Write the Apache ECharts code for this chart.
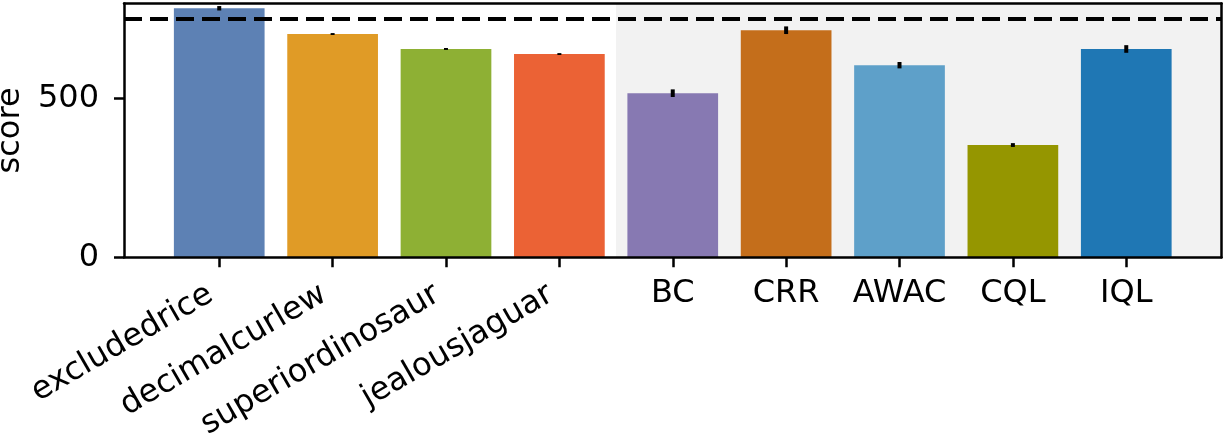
<!DOCTYPE html>
<html>
<head>
<meta charset="utf-8">
<script src="https://cdn.jsdelivr.net/npm/echarts@6/dist/echarts.min.js"></script>
<style>
html,body{margin:0;padding:0;background:#fff;}
#c{width:1224px;height:442px;}
</style>
</head>
<body>
<div id="c"></div>
<script>
var categories = ['excludedrice','decimalcurlew','superiordinosaur','jealousjaguar','BC','CRR','AWAC','CQL','IQL'];
var scores = [783, 702, 655, 639, 516, 714, 604, 353, 655];
var errors = [7, 3, 3, 3, 12, 12, 10, 6, 12];
var colors = ['#5d81b4','#e09b26','#8eb034','#eb6235','#8779b2','#c46e1b','#5ea0c9','#959600','#1f77b4'];
var referenceScore = 751;
var yTicks = [0, 500];
var rotatedTickIdx = [0, 1, 2, 3];
var flatTickIdx = [4, 5, 6, 7, 8];
var allTickIdx = [0, 1, 2, 3, 4, 5, 6, 7, 8];
var shadeFrom = 3.5;

var XMIN = -0.84, XMAX = 8.84, YMIN = 0, YMAX = 798;
var FONT = 'DejaVu Sans';
var FS = 32;

var chart = echarts.init(document.getElementById('c'), null, {renderer: 'canvas'});

var barData = scores.map(function (v, i) { return [i, v]; });
var errData = scores.map(function (v, i) { return [i, v - errors[i], v + errors[i]]; });

var option = {
  animation: false,
  backgroundColor: '#ffffff',
  grid: {left: 124, right: 2.5, top: 3.5, bottom: 184.7, containLabel: false, outerBoundsMode: 'none'},
  xAxis: [
    {
      type: 'value', min: XMIN, max: XMAX, position: 'bottom', z: 10,
      axisLine: {show: true, onZero: false, lineStyle: {color: '#000', width: 2.5}},
      axisTick: {show: true, customValues: allTickIdx, length: 10, lineStyle: {color: '#000', width: 2.5}},
      axisLabel: {
        show: true, customValues: rotatedTickIdx, rotate: 30, margin: 30,
        padding: [0, 10, 0, 0],
        fontFamily: FONT, fontSize: FS, color: '#000',
        formatter: function (v) { return categories[Math.round(v)]; }
      },
      splitLine: {show: false}
    },
    {
      type: 'value', min: XMIN, max: XMAX, position: 'bottom', z: 10,
      axisLine: {show: false, onZero: false},
      axisTick: {show: false},
      axisLabel: {
        show: true, customValues: flatTickIdx, rotate: 0, margin: 20,
        fontFamily: FONT, fontSize: FS, color: '#000',
        formatter: function (v) { return categories[Math.round(v)]; }
      },
      splitLine: {show: false}
    },
    {
      type: 'value', min: XMIN, max: XMAX, position: 'top', z: 10,
      axisLine: {show: true, onZero: false, lineStyle: {color: '#000', width: 2.5}},
      axisTick: {show: false}, axisLabel: {show: false}, splitLine: {show: false}
    }
  ],
  yAxis: [
    {
      type: 'value', min: YMIN, max: YMAX, position: 'left', z: 10,
      name: 'score', nameLocation: 'middle', nameGap: 91, nameRotate: 90,
      nameTextStyle: {fontFamily: FONT, fontSize: FS, color: '#000'},
      axisLine: {show: true, onZero: false, lineStyle: {color: '#000', width: 2.5}},
      axisTick: {show: true, customValues: yTicks, length: 10, lineStyle: {color: '#000', width: 2.5}},
      axisLabel: {show: true, customValues: yTicks, margin: 25, fontFamily: FONT, fontSize: FS, color: '#000'},
      splitLine: {show: false}
    },
    {
      type: 'value', min: YMIN, max: YMAX, position: 'right', z: 10,
      axisLine: {show: true, onZero: false, lineStyle: {color: '#000', width: 2.5}},
      axisTick: {show: false}, axisLabel: {show: false}, splitLine: {show: false}
    }
  ],
  series: [
    {
      type: 'line', xAxisIndex: 0, yAxisIndex: 0, data: [], z: 1, silent: true,
      markArea: {
        silent: true,
        itemStyle: {color: '#f2f2f2'},
        data: [[{xAxis: shadeFrom}, {xAxis: XMAX}]]
      }
    },
    {
      type: 'custom', xAxisIndex: 0, yAxisIndex: 0, z: 2,
      data: barData,
      renderItem: function (params, api) {
        var i = api.value(0);
        var top = api.coord([i, api.value(1)]);
        var base = api.coord([i, 0]);
        var w = api.size([0.8, 0])[0];
        return {
          type: 'rect',
          shape: {x: top[0] - w / 2, y: top[1], width: w, height: base[1] - top[1]},
          style: {fill: colors[params.dataIndex]}
        };
      }
    },
    {
      type: 'custom', xAxisIndex: 0, yAxisIndex: 0, z: 3,
      data: errData,
      renderItem: function (params, api) {
        var i = api.value(0);
        var lo = api.coord([i, api.value(1)]);
        var hi = api.coord([i, api.value(2)]);
        return {
          type: 'line',
          shape: {x1: lo[0], y1: lo[1], x2: hi[0], y2: hi[1]},
          style: {stroke: '#000', lineWidth: 4}
        };
      },
      markLine: {
        silent: true, symbol: ['none', 'none'],
        label: {show: false},
        lineStyle: {color: '#000', width: 4, type: [18, 8]},
        data: [{yAxis: referenceScore}]
      }
    }
  ]
};
chart.setOption(option);
</script>
</body>
</html>
